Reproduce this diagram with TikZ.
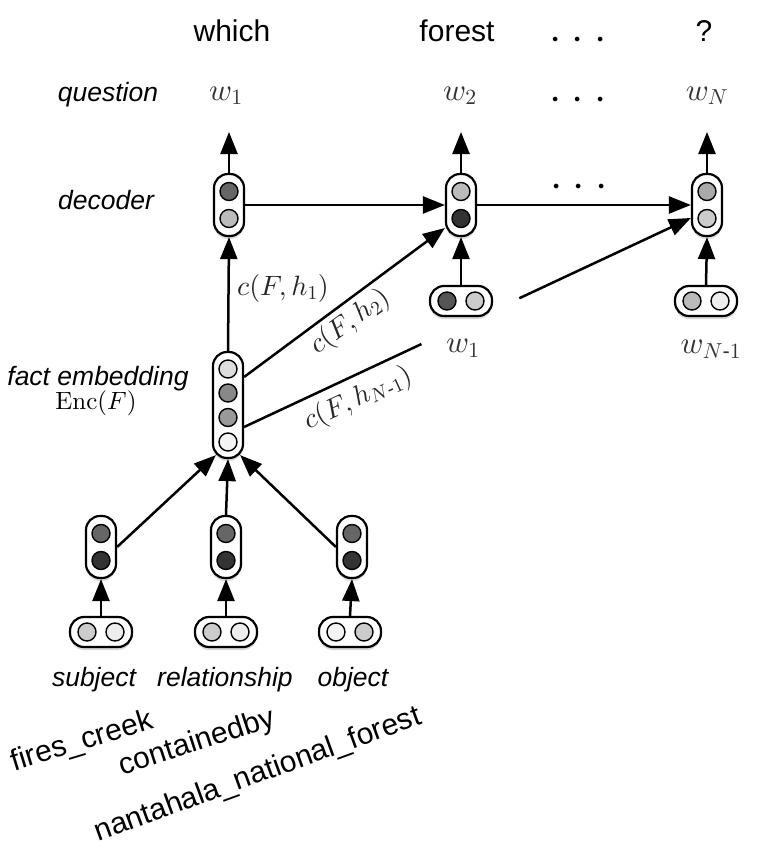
\documentclass[tikz,border=0pt]{standalone}
\usepackage{amsmath}
\usepackage[no-math]{fontspec}
\setmainfont{Liberation Sans}
\DeclareFontShape{OML}{cmm}{m}{it}{<->cmmi10}{\skewchar\font=127}
\DeclareFontShape{OT1}{cmr}{m}{n}{<->cmr10}{}
\DeclareFontShape{OMS}{cmsy}{m}{n}{<->cmsy10}{\skewchar\font=48}
\usetikzlibrary{arrows.meta,shadows,calc}
\definecolor{cA}{HTML}{666666}
\definecolor{cB}{HTML}{BBBBBB}
\definecolor{cC}{HTML}{333333}
\definecolor{cD}{HTML}{AAAAAA}
\definecolor{cE}{HTML}{CCCCCC}
\definecolor{cF}{HTML}{555555}
\definecolor{cG}{HTML}{EEEEEE}
\definecolor{cH}{HTML}{DDDDDD}
\definecolor{cI}{HTML}{888888}
\definecolor{cJ}{HTML}{999999}
\definecolor{cK}{HTML}{F4F4F4}
\newcommand{\threedots}{$\mathord{\cdot}\hspace{10pt}\mathord{\cdot}\hspace{10pt}\mathord{\cdot}$}
\tikzset{
 capsule/.style={draw=black, line width=2.2pt, fill=white, rounded corners=14pt, inner sep=0pt,
   drop shadow={shadow xshift=0pt, shadow yshift=-3pt, opacity=0.3}},
 vcap/.style={capsule, rectangle, minimum width=30pt, minimum height=62pt},
 hcap/.style={capsule, rectangle, minimum width=62pt, minimum height=30pt},
 fcap/.style={capsule, rectangle, minimum width=30pt, minimum height=106pt},
 unit/.style={circle, draw=black, line width=1.4pt, minimum size=18pt, inner sep=0pt, fill=#1},
 arr/.style={line width=2.5pt, -{Triangle[length=22pt,width=17pt]}},
 ln/.style={line width=2.5pt},
 lab/.style={font=\fontsize{26.5}{30}\selectfont\itshape},
 word/.style={font=\fontsize{30}{34}\selectfont},
 dots/.style={font=\fontsize{44}{44}\selectfont, inner sep=0pt},
 mth/.style={font=\fontsize{28}{32}\selectfont, text=black!85},
 wlab/.style={font=\fontsize{31}{34}\selectfont, text=black!80},
}
\begin{document}
\begin{tikzpicture}[x=1pt,y=-1pt]
\useasboundingbox (0,0) rectangle (770,864);
% top words
\node[word] (tw1) at (232,31) {which};
\node[word] (tw2) at (457,31) {forest};
\node[dots] (twd) at (578,41) {\threedots};
\node[word] (twN) at (704,31) {?};
% question row
\node[lab] (lq) at (108,95) {question};
\node[wlab] (qw1) at (226,96) {$w_1$};
\node[wlab] (qw2) at (460,96) {$w_2$};
\node[dots] (qwd) at (578,101) {\threedots};
\node[wlab] (qwN) at (707,96) {$w_N$};
\coordinate (t1) at (229,132);
\coordinate (t2) at (461,132);
\coordinate (t3) at (707,132);
% decoder
\node[lab] (ld) at (106,200) {decoder};
\node[vcap] (d1) at (229,205) {};
\node[unit=cA] (d1a) at ($(d1)+(0,-13.5)$) {};
\node[unit=cB] (d1b) at ($(d1)+(0,13.5)$) {};
\node[vcap] (d2) at (461,205) {};
\node[unit=cB] (d2a) at ($(d2)+(0,-13.5)$) {};
\node[unit=cC] (d2b) at ($(d2)+(0,13.5)$) {};
\node[vcap] (d3) at (707,205) {};
\node[unit=cD] (d3a) at ($(d3)+(0,-13.5)$) {};
\node[unit=cE] (d3b) at ($(d3)+(0,13.5)$) {};
\node[dots] (ddots) at (579,188) {\threedots};
% decoder inputs
\node[hcap] (in1) at (461,301) {};
\node[unit=cF] (in1a) at ($(in1)+(-14,0)$) {};
\node[unit=cE] (in1b) at ($(in1)+(14,0)$) {};
\node[hcap] (inN) at (706,301) {};
\node[unit=cB] (inNa) at ($(inN)+(-14,0)$) {};
\node[unit=cG] (inNb) at ($(inN)+(14,0)$) {};
\node[wlab] (lin1) at (463,348) {$w_1$};
\node[wlab] (linN) at (711,349) {$w_{N\text{-}1}$};
% fact embedding
\node[lab] (lfe) at (98,379) {fact embedding};
\node[mth, text=black, font=\fontsize{25}{30}\selectfont] (lenc) at (96,403) {$\mathrm{Enc}(F)$};
\node[fcap] (fe) at (228,405) {};
\node[unit=cH] (fea) at ($(fe)+(0,-36)$) {};
\node[unit=cI] (feb) at ($(fe)+(0,-12)$) {};
\node[unit=cJ] (fec) at ($(fe)+(0,12.5)$) {};
\node[unit=cK] (fed) at ($(fe)+(0,37)$) {};
% triple encoders
\node[vcap] (sub) at (101,547) {};
\node[unit=cA] (suba) at ($(sub)+(0,-13.5)$) {};
\node[unit=cC] (subb) at ($(sub)+(0,13.5)$) {};
\node[vcap] (rel) at (226,547) {};
\node[unit=cA] (rela) at ($(rel)+(0,-13.5)$) {};
\node[unit=cC] (relb) at ($(rel)+(0,13.5)$) {};
\node[vcap] (obj) at (352,547) {};
\node[unit=cA] (obja) at ($(obj)+(0,-13.5)$) {};
\node[unit=cC] (objb) at ($(obj)+(0,13.5)$) {};
\node[hcap] (subin) at (101,632) {};
\node[unit=cE] (subina) at ($(subin)+(-14,0)$) {};
\node[unit=cG] (subinb) at ($(subin)+(14,0)$) {};
\node[hcap] (relin) at (226,632) {};
\node[unit=cE] (relina) at ($(relin)+(-14,0)$) {};
\node[unit=cG] (relinb) at ($(relin)+(14,0)$) {};
\node[hcap] (objin) at (350,632) {};
\node[unit=cK] (objina) at ($(objin)+(-14,0)$) {};
\node[unit=cE] (objinb) at ($(objin)+(14,0)$) {};
\node[lab] (lsub) at (94,680) {subject};
\node[lab] (lrel) at (225,680) {relationship};
\node[lab] (lobj) at (353,680) {object};
\node[word, rotate=17] (fw1) at (82,742) {fires\_creek};
\node[word, rotate=18] (fw2) at (197,743) {containedby};
\node[word, rotate=20] (fw3) at (258,775) {nantahala\_national\_forest};
% connectors
\draw[arr] (d1.north) -- (t1);
\draw[arr] (d2.north) -- (t2);
\draw[arr] (d3.north) -- (t3);
\draw[arr] (d1.east) -- (d2.west);
\draw[arr] (d2.east) -- (d3.west);
\draw[arr] (in1.north) -- (d2.south);
\draw[arr] (inN.north) -- (d3.south);
\draw[arr] (fe.north) -- (d1.south) node[pos=0.55, right=4pt, mth] (lc1) {$c(F,h_1)$};
\draw[arr] ([yshift=28pt]fe.east) -- ([yshift=-23pt]d2.west);
\node[mth, rotate=36] (lc2) at (350,322) {$c(F,h_2)$};
\coordinate (s3) at ([yshift=-22pt]fe.east);
\coordinate (e3) at ([yshift=-13pt]d3.west);
\draw[ln] (s3) -- ($(s3)!0.397!(e3)$);
\draw[arr] ($(s3)!0.616!(e3)$) -- (e3);
\node[mth, rotate=25] (lc3) at (358,399) {$c(F,h_{N\text{-}1})$};
\draw[arr] (sub.east) -- ([xshift=4pt,yshift=4pt]fe.south west);
\draw[arr] (rel.north) -- (fe.south);
\draw[arr] (obj.west) -- ([xshift=-4pt,yshift=4pt]fe.south east);
\draw[arr] (subin.north) -- (sub.south);
\draw[arr] (relin.north) -- (rel.south);
\draw[arr] (objin.north) -- (obj.south);
\end{tikzpicture}
\end{document}
